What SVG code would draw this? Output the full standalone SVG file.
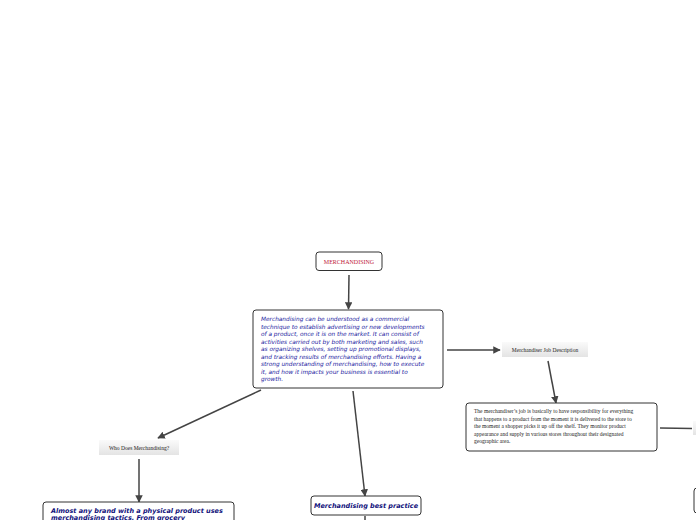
<svg xmlns="http://www.w3.org/2000/svg" width="696" height="520" viewBox="0 0 696 520">
<defs>
<marker id="ah" viewBox="0 0 10 10" refX="9" refY="5" markerWidth="5" markerHeight="5" orient="auto"><path d="M0,0L10,5L0,10z" fill="#444"/></marker>
<linearGradient id="g" x1="0" y1="0" x2="0" y2="1"><stop offset="0" stop-color="#fafafa"/><stop offset="1" stop-color="#e4e4e4"/></linearGradient>
</defs>
<style>
.box{fill:#fff;stroke:#333;stroke-width:1}
.lbl{fill:url(#g);stroke:none}
.c{stroke:#444;stroke-width:1.5;fill:none;marker-end:url(#ah)}
.s{font-family:"Liberation Serif",serif;font-size:5.5px;fill:#222}
.b{font-family:"DejaVu Sans",sans-serif;font-style:italic;font-size:5.8px;fill:#2020a0}
.bb{font-family:"DejaVu Sans",sans-serif;font-style:italic;font-weight:bold;font-size:6.5px;fill:#10107a}
</style>
<rect width="696" height="520" fill="#fff"/>
<g id="connectors">
<path class="c" d="M349,275 L348.5,309"/>
<path class="c" d="M447,350 L500,350"/>
<path class="c" d="M548,361 L556,403"/>
<path class="c" d="M261,390 L158,438"/>
<path class="c" d="M139,459 L139,502"/>
<path class="c" d="M353,391 L365,496"/>
<path d="M660,428 L692,428.5" stroke="#444" stroke-width="1.5"/>
<path d="M365,516 L365,520" stroke="#444" stroke-width="1.5"/>
</g>
<g id="merch"><rect class="box" x="316" y="252" width="66" height="18.5" rx="3"/><text x="349" y="263.5" text-anchor="middle" font-family="Liberation Serif,serif" font-size="6px" fill="#c0203a">MERCHANDISING</text></g>
<g id="def"><rect class="box" x="253" y="310" width="190" height="78" rx="3"/>
<text class="b"><tspan x="261" y="321">Merchandising can be understood as a commercial</tspan><tspan x="261" y="328.5">technique to establish advertising or new developments</tspan><tspan x="261" y="336">of a product, once it is on the market. It can consist of</tspan><tspan x="261" y="343.5">activities carried out by both marketing and sales, such</tspan><tspan x="261" y="351">as organizing shelves, setting up promotional displays,</tspan><tspan x="261" y="358.5">and tracking results of merchandising efforts. Having a</tspan><tspan x="261" y="366">strong understanding of merchandising, how to execute</tspan><tspan x="261" y="373.5">it, and how it impacts your business is essential to</tspan><tspan x="261" y="381">growth.</tspan></text></g>
<g id="jobdesc"><rect class="lbl" x="502" y="342" width="86" height="15"/><text class="s" x="545" y="351.5" text-anchor="middle">Merchandiser Job Description</text></g>
<g id="jobtext"><rect class="box" x="466" y="403" width="191" height="48" rx="3"/>
<text class="s"><tspan x="474" y="413">The merchandiser’s job is basically to have responsibility for everything</tspan><tspan x="474" y="420.5">that happens to a product from the moment it is delivered to the store to</tspan><tspan x="474" y="428">the moment a shopper picks it up off the shelf. They monitor product</tspan><tspan x="474" y="435.5">appearance and supply in various stores throughout their designated</tspan><tspan x="474" y="443">geographic area.</tspan></text></g>
<g id="who"><rect class="lbl" x="99" y="440" width="80" height="15"/><text class="s" x="139" y="449.5" text-anchor="middle">Who Does Merchandising?</text></g>
<g id="almost"><rect class="box" x="43" y="502" width="191" height="30" rx="3"/>
<text class="bb" font-size="6.2px"><tspan x="51" y="513">Almost any brand with a physical product uses</tspan><tspan x="51" y="520">merchandising tactics. From grocery</tspan></text></g>
<g id="best"><rect class="box" x="311" y="496" width="110" height="19" rx="3"/><text class="bb" x="366" y="508" text-anchor="middle">Merchandising best practice</text></g>
<g id="right1"><rect class="lbl" x="693" y="421" width="10" height="14"/></g>
<g id="right2"><rect class="box" x="694" y="488" width="20" height="25" rx="3"/></g>
</svg>
